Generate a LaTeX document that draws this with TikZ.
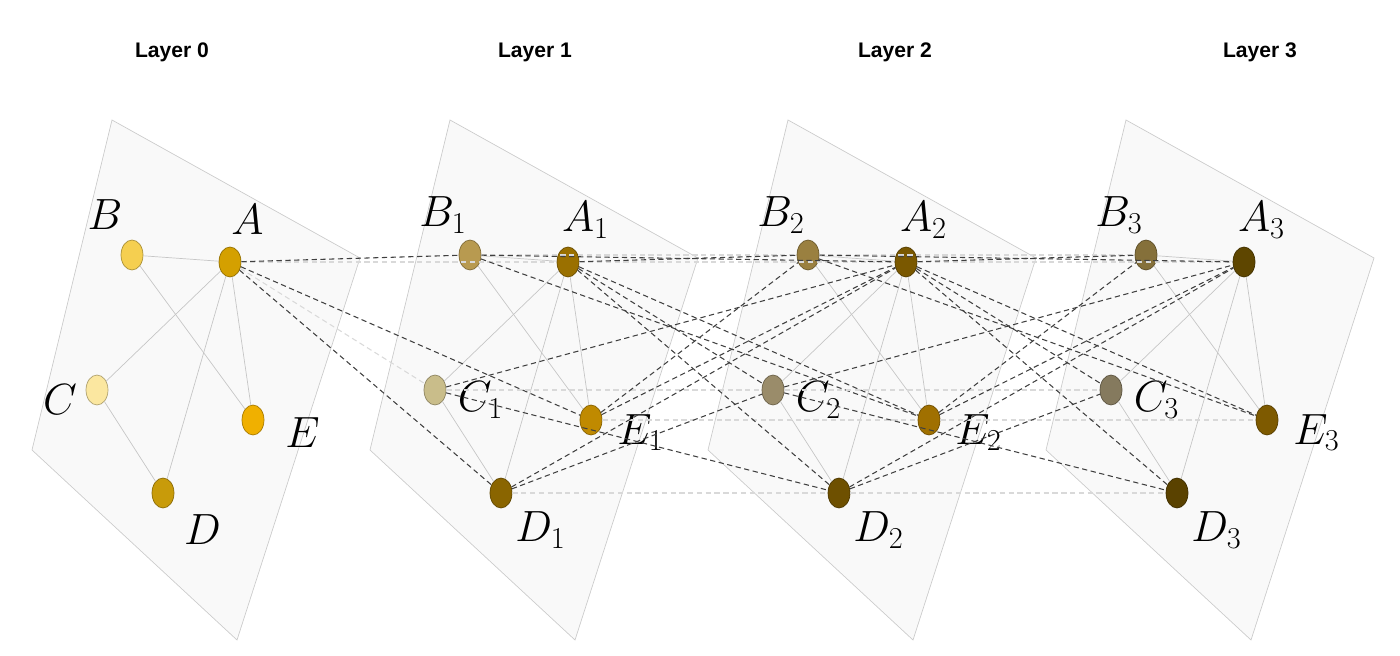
\documentclass[tikz,border=0pt]{standalone}
\usepackage{fontspec}
\setmainfont{Liberation Sans}
\usetikzlibrary{positioning, shapes.geometric}

\definecolor{cA0}{HTML}{D4A000}\definecolor{cB0}{HTML}{F5CF50}\definecolor{cC0}{HTML}{FBE7A0}
\definecolor{cD0}{HTML}{C89B0A}\definecolor{cE0}{HTML}{F0B000}
\definecolor{cA1}{HTML}{9A7000}\definecolor{cB1}{HTML}{B89A50}\definecolor{cC1}{HTML}{C9BD8A}
\definecolor{cD1}{HTML}{8A6500}\definecolor{cE1}{HTML}{C08A00}
\definecolor{cA2}{HTML}{7A5800}\definecolor{cB2}{HTML}{9A8040}\definecolor{cC2}{HTML}{9A8C6A}
\definecolor{cD2}{HTML}{6E5000}\definecolor{cE2}{HTML}{A07000}
\definecolor{cA3}{HTML}{5E4600}\definecolor{cB3}{HTML}{85703A}\definecolor{cC3}{HTML}{857A5E}
\definecolor{cD3}{HTML}{5A4200}\definecolor{cE3}{HTML}{7E5A00}

\begin{document}
\begin{tikzpicture}
  [vertex/.style={ellipse,minimum width=4.4mm,minimum height=6mm,inner sep=0pt,draw=#1!70!black,fill=#1},
   plane/.style={draw=gray!40,fill=gray!6,fill opacity=0.7},
   intra/.style={gray!45,thin},
   inter/.style={black!75,densely dashed,semithick},
   faint/.style={gray!30,densely dashed,semithick},
   vlabel/.style={font=\fontsize{24}{24}\selectfont},
   title/.style={font=\bfseries\large}]

  \useasboundingbox (0,0) rectangle (28,13.1);

  % Ebenen
  \foreach \k in {0,...,3}
    \draw [plane, xshift=\k*6.76cm] (2.24,10.7) -- (7.2,7.94) -- (4.74,0.3) -- (0.64,4.1) -- cycle;

  % Titel
  \foreach \k/\x in {0/3.44,1/10.7,2/17.9,3/25.2}
    \node (title\k) at (\x,12.06) [title] {Layer \k};

  % Knoten je Ebene
  \foreach \k/\s/\cx in {0/{}/1.2,1/{_1}/2.85,2/{_2}/2.85,3/{_3}/2.85} {
    \begin{scope}[xshift=\k*6.76cm]
      \node (B\k) at (2.64,8.0)  [vertex=cB\k] {};
      \node (A\k) at (4.6,7.86)  [vertex=cA\k] {};
      \node (C\k) at (1.94,5.3)  [vertex=cC\k] {};
      \node (E\k) at (5.06,4.7)  [vertex=cE\k] {};
      \node (D\k) at (3.26,3.24) [vertex=cD\k] {};
      \node at (2.1,8.8)   [vlabel] {$B\s$};
      \node at (4.95,8.7)  [vlabel] {$A\s$};
      \node at (\cx,5.1)   [vlabel] {$C\s$};
      \node at (6.05,4.45) [vlabel] {$E\s$};
      \node at (4.05,2.5)  [vlabel] {$D\s$};
      \foreach \p/\q in {A/B,A/C,A/D,A/E,B/E,C/D}
        \draw [intra] (\p\k) -- (\q\k);
    \end{scope}
  }

  % Verbindungen zwischen Ebenen
  \foreach \q in {A,C}
    \draw [faint] (A0) -- (\q1);
  \foreach \q in {B,E,D}
    \draw [inter] (A0) -- (\q1);
  \foreach \k/\n in {1/2,2/3} {
    \foreach \p in {A,B,C,D,E}
      \draw [faint] (\p\k) -- (\p\n);
    \foreach \p/\q in {A/B,A/C,A/D,A/E,B/A,B/E,C/A,C/D,D/A,D/C,E/A,E/B}
      \draw [inter] (\p\k) -- (\q\n);
  }

\end{tikzpicture}
\end{document}
